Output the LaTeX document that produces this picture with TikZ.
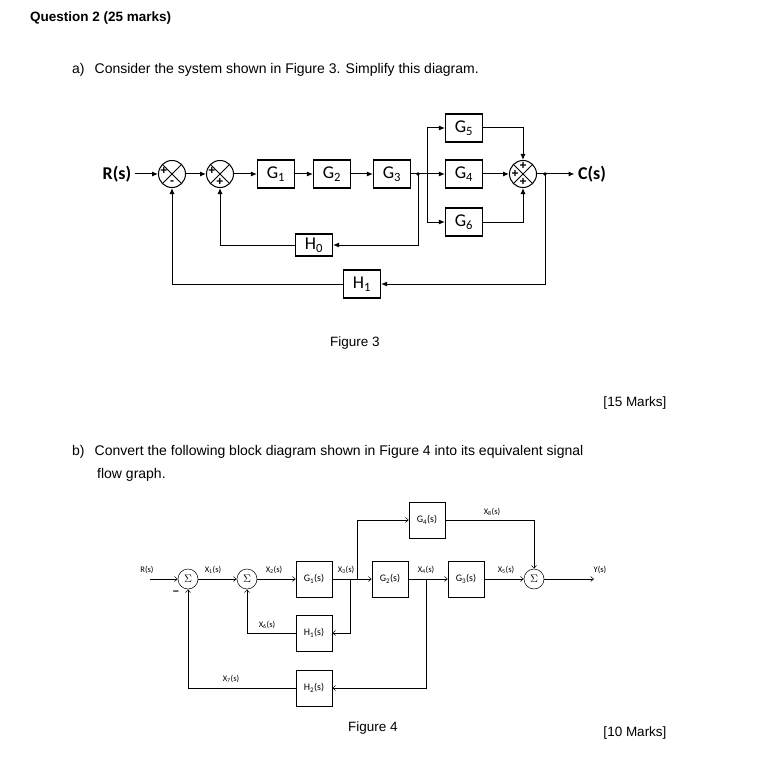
\documentclass[tikz,border=0pt]{standalone}
\usepackage{fontspec}
\setmainfont{Liberation Sans}
\newfontfamily\blockfont{Carlito}
\usetikzlibrary{arrows.meta,positioning}
\tikzset{
  blk/.style={draw,line width=1.1pt,minimum width=37pt,minimum height=28pt,inner sep=0pt,font=\blockfont\fontsize{18}{18}\selectfont},
  xsum/.style={draw,circle,line width=1pt,minimum size=27pt,inner sep=0pt,
    path picture={\draw[line width=1pt] (path picture bounding box.north west)--(path picture bounding box.south east)
      (path picture bounding box.north east)--(path picture bounding box.south west);}},
  sgn/.style={font=\fontsize{12}{12}\selectfont\bfseries,inner sep=0pt},
  sig/.style={line width=1pt,-{Latex[length=6pt,width=5pt]}},
  ln/.style={line width=1pt},
  bblk/.style={draw,line width=0.5pt,minimum width=36pt,minimum height=36pt,inner sep=0pt,font=\blockfont\fontsize{10}{10}\selectfont},
  ssum/.style={draw,circle,line width=0.5pt,minimum size=20pt,inner sep=0pt,font=\fontsize{11}{11}\selectfont},
  bsig/.style={line width=0.5pt,-{Straight Barb[length=3pt,width=5pt]}},
  bln/.style={line width=0.5pt},
  lab/.style={font=\blockfont\fontsize{8.5}{8.5}\selectfont,inner sep=0pt},
  txt/.style={font=\fontsize{14}{16}\selectfont,anchor=west,inner sep=0pt}
}
\newcommand{\subi}[1]{\textsubscript{#1}}
\begin{document}
\begin{tikzpicture}[x=1pt,y=-1pt]
\useasboundingbox (0,0) rectangle (782,773);
% texts
\node[txt,font=\fontsize{13.5}{16}\selectfont\bfseries] (title) at (30,18) {Question 2 (25 marks)};
\node[txt] (qa) at (72,70) {a)\hspace{10pt}Consider the system shown in Figure 3. Simplify this diagram.};
\node[font=\fontsize{13.5}{16}\selectfont] (fig3) at (355,343) {Figure 3};
\node[font=\fontsize{13.5}{16}\selectfont] (m15) at (635,403) {[15 Marks]};
\node[txt] (qb) at (72,452) {b)\hspace{10pt}Convert the following block diagram shown in Figure 4 into its equivalent signal};
\node[txt] (qb2) at (97,475) {flow graph.};
\node[font=\fontsize{13.5}{16}\selectfont] (fig4) at (373,728) {Figure 4};
\node[font=\fontsize{13.5}{16}\selectfont] (m10) at (635,733) {[10 Marks]};

% Figure 3
\node[font=\blockfont\fontsize{18}{18}\selectfont\bfseries] (R) at (117,174) {R(s)};
\node[xsum] (s1) at (172,174) {};
\node[xsum] (s2) at (220,174) {};
\node[blk] (G1) at (276,174) {G\subi{1}};
\node[blk] (G2) at (332,174) {G\subi{2}};
\node[blk] (G3) at (392,174) {G\subi{3}};
\node[blk] (G5) at (464,128) {G\subi{5}};
\node[blk] (G4) at (464,174) {G\subi{4}};
\node[blk] (G6) at (464,222) {G\subi{6}};
\node[xsum] (s3) at (523,174) {};
\node[font=\blockfont\fontsize{18}{18}\selectfont\bfseries] (C) at (592,174) {C(s)};
\node[blk,minimum height=22pt] (H0) at (314,245) {H\subi{0}};
\node[blk] (H1) at (362,284) {H\subi{1}};
\coordinate (j1) at (418,174);
\coordinate (br) at (427,174);
\coordinate (j2) at (545,174);
\fill (j1) circle (1.8pt) (j2) circle (1.8pt);
\node[sgn] at (164,171) {+};
\node[sgn] at (172,183) {-};
\node[sgn] at (212,171) {+};
\node[sgn] at (220,182) {+};
\node[sgn] at (523,166) {+};
\node[sgn] at (515,174) {+};
\node[sgn] at (523,182) {+};
\draw[sig] (R) -- (s1);
\draw[sig] (s1) -- (s2);
\draw[sig] (s2) -- (G1);
\draw[sig] (G1) -- (G2);
\draw[sig] (G2) -- (G3);
\draw[sig] (G3) -- (G4);
\draw[sig] (br) |- (G5);
\draw[sig] (br) |- (G6);
\draw[sig] (G5) -| (s3);
\draw[sig] (G4) -- (s3);
\draw[sig] (G6) -| (s3);
\draw[sig] (s3) -- (C);
\draw[sig] (j1) |- (H0);
\draw[sig] (H0) -| (s2);
\draw[sig] (j2) |- (H1);
\draw[sig] (H1) -| (s1);

% Figure 4
\coordinate (Rin) at (150,579);
\node[lab] (Rl) at (147,570) {R(s)};
\node[ssum] (t1) at (188,579) {$\Sigma$};
\node[ssum] (t2) at (247,579) {$\Sigma$};
\node[bblk] (B1) at (314,579) {G\subi{1}(s)};
\node[bblk] (B2) at (390,579) {G\subi{2}(s)};
\node[bblk] (B3) at (466,579) {G\subi{3}(s)};
\node[bblk] (B4) at (427,520) {G\subi{4}(s)};
\node[ssum] (t3) at (534,579) {$\Sigma$};
\coordinate (Yout) at (594,579);
\node[lab] (Yl) at (600,570) {Y(s)};
\node[bblk] (BH1) at (314,633) {H\subi{1}(s)};
\node[bblk] (BH2) at (314,688) {H\subi{2}(s)};
\coordinate (k1) at (350,579);
\coordinate (k2) at (357,579);
\coordinate (k3) at (426,579);
\node[font=\bfseries\fontsize{11}{11}\selectfont,inner sep=0pt] at (176,593) {--};
\node[lab] at (213,570) {X\subi{1}(s)};
\node[lab] at (274,570) {X\subi{2}(s)};
\node[lab] at (346,570) {X\subi{3}(s)};
\node[lab] at (426,570) {X\subi{4}(s)};
\node[lab] at (506,570) {X\subi{5}(s)};
\node[lab] at (492,512) {X\subi{8}(s)};
\node[lab] at (267,625) {X\subi{6}(s)};
\node[lab] at (231,679) {X\subi{7}(s)};
\draw[bsig] (Rin) -- (t1);
\draw[bsig] (t1) -- (t2);
\draw[bsig] (t2) -- (B1);
\draw[bsig] (B1) -- (B2);
\draw[bsig] (B2) -- (B3);
\draw[bsig] (B3) -- (t3);
\draw[bsig] (t3) -- (Yout);
\draw[bsig] (k2) |- (B4);
\draw[bsig] (B4) -| (t3);
\draw[bsig] (k1) |- (BH1);
\draw[bsig] (BH1) -| (t2);
\draw[bsig] (k3) |- (BH2);
\draw[bsig] (BH2) -| (t1);
\end{tikzpicture}
\end{document}
